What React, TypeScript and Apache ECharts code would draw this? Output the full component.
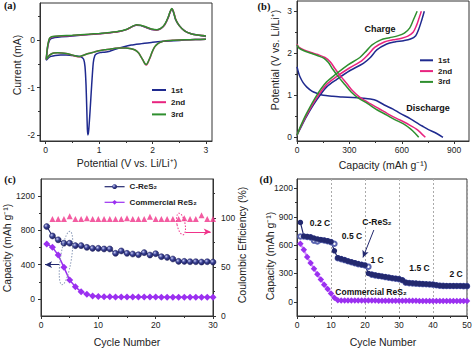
import React, { useEffect, useRef } from "react";
import * as echarts from "echarts";

const SANS = "Liberation Sans, Arial, sans-serif";
const SERIF = "Liberation Serif, Times New Roman, serif";
const AXC = "#333";

// ---------- (a) cyclic voltammetry: [potential (V), current (mA)] ----------
const cv1st: number[][] = [
  [3.0, 0.02], [2.8, 0.015], [2.6, 0.005], [2.4, -0.01], [2.2, -0.02], [2.0, -0.04], [1.8, -0.07], [1.6, -0.1],
  [1.45, -0.14], [1.3, -0.19], [1.2, -0.23], [1.1, -0.25], [1.02, -0.26], [0.96, -0.28], [0.92, -0.32], [0.89, -0.48],
  [0.86, -0.95], [0.83, -1.5], [0.805, -1.9], [0.79, -2.0], [0.78, -1.88], [0.77, -1.5], [0.755, -0.95], [0.735, -0.55],
  [0.71, -0.4], [0.66, -0.35], [0.58, -0.33], [0.48, -0.32], [0.38, -0.31], [0.28, -0.31], [0.18, -0.32], [0.1, -0.34],
  [0.05, -0.37], [0.01, -0.42],
  [0.02, -0.3], [0.04, -0.12], [0.07, 0.0], [0.11, 0.04], [0.17, 0.06], [0.3, 0.075], [0.5, 0.09], [0.8, 0.12],
  [1.0, 0.14], [1.2, 0.16], [1.4, 0.19], [1.52, 0.23], [1.62, 0.29], [1.7, 0.32], [1.78, 0.31], [1.88, 0.27],
  [1.98, 0.23], [2.08, 0.22], [2.16, 0.25], [2.23, 0.33], [2.29, 0.47], [2.33, 0.6], [2.36, 0.66], [2.39, 0.6],
  [2.43, 0.44], [2.5, 0.31], [2.6, 0.2], [2.72, 0.14], [2.85, 0.11], [3.0, 0.08],
];
const cv2nd: number[][] = [
  [3.0, 0.02], [2.8, 0.015], [2.6, 0.01], [2.4, 0.0], [2.25, -0.01], [2.17, -0.03], [2.1, -0.07], [2.04, -0.14],
  [1.99, -0.26], [1.95, -0.38], [1.91, -0.48], [1.885, -0.52], [1.86, -0.5], [1.83, -0.44], [1.79, -0.36], [1.74, -0.27],
  [1.68, -0.21], [1.6, -0.18], [1.5, -0.16], [1.4, -0.16], [1.3, -0.17], [1.2, -0.19], [1.1, -0.2], [1.0, -0.22],
  [0.9, -0.25], [0.8, -0.28], [0.72, -0.31], [0.65, -0.34], [0.6, -0.345], [0.54, -0.33], [0.46, -0.3], [0.38, -0.28],
  [0.3, -0.27], [0.22, -0.265], [0.15, -0.27], [0.09, -0.3], [0.05, -0.34], [0.01, -0.4],
  [0.02, -0.28], [0.04, -0.1], [0.07, 0.03], [0.11, 0.07], [0.17, 0.08], [0.3, 0.09], [0.5, 0.1], [0.8, 0.125],
  [1.0, 0.14], [1.2, 0.16], [1.4, 0.19], [1.52, 0.23], [1.62, 0.29], [1.7, 0.325], [1.78, 0.315], [1.88, 0.275],
  [1.98, 0.235], [2.08, 0.22], [2.16, 0.25], [2.23, 0.33], [2.29, 0.47], [2.33, 0.6], [2.365, 0.66], [2.395, 0.6],
  [2.435, 0.44], [2.5, 0.31], [2.6, 0.2], [2.72, 0.14], [2.85, 0.11], [3.0, 0.09],
];
const cv3rd: number[][] = [
  [3.0, 0.02], [2.8, 0.015], [2.6, 0.01], [2.4, 0.0], [2.25, -0.01], [2.17, -0.03], [2.1, -0.07], [2.04, -0.14],
  [1.99, -0.25], [1.95, -0.37], [1.91, -0.47], [1.88, -0.51], [1.855, -0.49], [1.825, -0.43], [1.785, -0.35], [1.74, -0.27],
  [1.68, -0.21], [1.6, -0.18], [1.5, -0.16], [1.4, -0.16], [1.3, -0.17], [1.2, -0.19], [1.1, -0.2], [1.0, -0.22],
  [0.9, -0.25], [0.8, -0.28], [0.72, -0.31], [0.65, -0.335], [0.6, -0.34], [0.54, -0.325], [0.46, -0.3], [0.38, -0.28],
  [0.3, -0.27], [0.22, -0.265], [0.15, -0.27], [0.09, -0.3], [0.05, -0.34], [0.01, -0.4],
  [0.02, -0.27], [0.04, -0.09], [0.07, 0.04], [0.11, 0.075], [0.17, 0.085], [0.3, 0.095], [0.5, 0.105], [0.8, 0.13],
  [1.0, 0.145], [1.2, 0.165], [1.4, 0.195], [1.52, 0.235], [1.62, 0.295], [1.7, 0.33], [1.78, 0.32], [1.88, 0.28],
  [1.98, 0.24], [2.08, 0.225], [2.16, 0.255], [2.23, 0.34], [2.29, 0.48], [2.33, 0.61], [2.36, 0.67], [2.39, 0.61],
  [2.43, 0.45], [2.5, 0.31], [2.6, 0.2], [2.72, 0.14], [2.85, 0.11], [3.0, 0.09],
];

// ---------- (b) galvanostatic profiles: [capacity (mAh/g), potential (V)] ----------
const dis1st: number[][] = [
  [0, 1.68], [8, 1.55], [17, 1.44], [35, 1.3], [55, 1.2], [85, 1.1], [113, 1.05], [150, 1.0], [200, 0.98], [260, 0.96],
  [320, 0.95], [380, 0.93], [420, 0.91], [457, 0.87], [500, 0.77], [550, 0.67], [591, 0.57], [650, 0.44], [700, 0.31],
  [725, 0.25], [750, 0.19], [800, 0.09], [836, 0.0],
];
const dis2nd: number[][] = [
  [0, 2.22], [10, 2.15], [40, 2.08], [80, 2.02], [120, 1.97], [160, 1.9], [190, 1.8], [215, 1.65], [245, 1.48],
  [285, 1.28], [320, 1.1], [361, 0.95], [419, 0.8], [470, 0.68], [520, 0.56], [570, 0.45], [610, 0.37], [650, 0.28],
  [686, 0.19], [710, 0.1], [735, 0.0],
];
const dis3rd: number[][] = [
  [0, 2.2], [10, 2.13], [40, 2.06], [80, 2.0], [120, 1.94], [155, 1.88], [180, 1.78], [205, 1.62], [235, 1.45],
  [275, 1.25], [310, 1.08], [350, 0.94], [405, 0.8], [460, 0.65], [514, 0.53], [560, 0.42], [610, 0.32], [650, 0.2],
  [680, 0.08], [697, 0.0],
];
const chg1st: number[][] = [
  [0, 0.05], [20, 0.22], [55, 0.5], [113, 0.89], [170, 1.2], [228, 1.38], [304, 1.59], [380, 1.76], [420, 1.9],
  [457, 2.08], [514, 2.22], [560, 2.27], [610, 2.3], [650, 2.34], [680, 2.42], [696, 2.56], [715, 2.8], [729, 3.0],
];
const chg2nd: number[][] = [
  [0, 0.05], [20, 0.24], [55, 0.53], [113, 0.94], [170, 1.26], [228, 1.45], [300, 1.65], [370, 1.82], [410, 1.98],
  [445, 2.14], [500, 2.27], [550, 2.32], [600, 2.36], [635, 2.41], [665, 2.5], [685, 2.67], [700, 2.85], [712, 3.0],
];
const chg3rd: number[][] = [
  [0, 0.05], [20, 0.26], [55, 0.57], [113, 1.0], [170, 1.32], [228, 1.52], [290, 1.72], [360, 1.9], [400, 2.07],
  [430, 2.2], [480, 2.32], [530, 2.37], [580, 2.42], [615, 2.48], [645, 2.6], [665, 2.78], [688, 3.0],
];

// ---------- (c) cycling at constant rate ----------
const cyclesC = [1, 2, 3, 4, 5, 6, 7, 8, 9, 10, 11, 12, 13, 14, 15, 16, 17, 18, 19, 20, 21, 22, 23, 24, 25, 26, 27, 28, 29, 30];
const cReS2Cap = [845, 735, 690, 650, 650, 622, 622, 602, 590, 590, 583, 583, 532, 560, 532, 524, 516, 540, 512, 528,
  493, 485, 466, 438, 438, 434, 434, 430, 434, 430];
const commCap = [642, 602, 512, 368, 219, 141, 82, 55, 35, 27, 25, 24, 23, 23, 22, 22, 22, 21, 21, 21,
  20, 20, 20, 19, 19, 19, 18, 18, 18, 18];
const ceCycles = [2, 3, 4, 5, 6, 7, 8, 9, 10, 11, 12, 13, 14, 15, 16, 17, 18, 19, 20, 21, 22, 23, 24, 25, 26, 27, 28, 29, 30];
const ceValues = [99, 99, 99, 102, 99, 99, 100, 99, 99, 99, 99, 99, 99, 100, 99, 99, 99, 101.5, 99, 99,
  99, 99, 99, 100, 99, 99, 103, 99, 99];

// ---------- (d) rate capability ----------
const cyclesD = [1, 2, 3, 4, 5, 6, 7, 8, 9, 10, 11, 12, 13, 14, 15, 16, 17, 18, 19, 20, 21, 22, 23, 24, 25,
  26, 27, 28, 29, 30, 31, 32, 33, 34, 35, 36, 37, 38, 39, 40, 41, 42, 43, 44, 45, 46, 47, 48, 49, 50];
const rateDis = [840, 695, 690, 685, 675, 665, 658, 652, 645, 635, 540, 465, 455, 445, 432, 422, 412, 402, 395, 388,
  300, 290, 282, 276, 270, 264, 258, 252, 247, 242, 230, 205, 200, 197, 195, 192, 190, 188, 186, 184,
  178, 172, 170, 170, 169, 169, 168, 168, 167, 167];
const rateChg = [692, 692, 687, 682, 648, 640, 655, 649, 642, 632, 615, 462, 452, 442, 429, 419, 409, 399, 392, 385,
  372, 288, 280, 274, 268, 262, 256, 250, 245, 240, 228, 203, 198, 195, 193, 190, 188, 186, 184, 182,
  176, 171, 169, 168, 168, 168, 167, 167, 166, 166];
const rateComm = [614, 551, 474, 410, 351, 292, 235, 182, 137, 88, 42, 18, 15, 15, 14, 14, 14, 14, 13, 13,
  13, 13, 13, 12, 12, 12, 12, 12, 12, 11, 11, 11, 11, 11, 11, 10, 10, 10, 10, 10,
  10, 10, 9, 9, 9, 9, 9, 9, 9, 9];
const rateLabels = ["0.2 C", "0.5 C", "1 C", "1.5 C", "2 C"];

// ---------- ticks ----------
const aXMajor = [0, 1, 2, 3], aXMinor = [0.5, 1.5, 2.5];
const aYMajor = [-2, -1, 0], aYMinor = [-1.5, -0.5, 0.5];
const bXMajor = [0, 300, 600, 900], bXMinor = [150, 450, 750];
const bYMajor = [0, 1, 2, 3], bYMinor = [0.5, 1.5, 2.5];
const cXMajor = [0, 10, 20, 30], cXMinor = [5, 15, 25];
const cYMajor = [0, 400, 800, 1200], cYMinor = [200, 600, 1000];
const cRMajor = [0, 50, 100], cRMinor = [25, 75, 125];
const dXMajor = [0, 10, 20, 30, 40, 50], dXMinor = [5, 15, 25, 35, 45];
const dYMajor = [0, 300, 600, 900, 1200], dYMinor = [150, 450, 750, 1050];

const BLUE = "#1f2a8f";
const PINK = "#e8247f";
const GREEN = "#2f8f2f";
const NAVY = "#23296f";
const VIOLET = "#9b30f0";
const CEPINK = "#f0338a";

function valueAxes(gridIndex: number, position: string, min: number, max: number, major: number[], minor: number[],
  margin: number, extra: any = {}) {
  const common = { type: "value", gridIndex, position, min, max, splitLine: { show: false } };
  const main = {
    ...common,
    axisLine: { show: true, onZero: false, lineStyle: { color: AXC, width: 1 } },
    axisTick: { show: true, inside: false, length: 3, customValues: major, lineStyle: { color: AXC, width: 1 } },
    axisLabel: {
      show: true, customValues: major, margin, fontSize: 8.5, color: "#222", fontFamily: SANS,
      formatter: (v: number) => String(v),
    },
    ...extra,
  };
  const mnr = {
    ...common,
    axisLine: { show: false, onZero: false },
    axisTick: { show: true, inside: false, length: 2, customValues: minor, lineStyle: { color: AXC, width: 1 } },
    axisLabel: { show: false },
  };
  return [main, mnr];
}

function txt(x: number, y: number, text: string, o: any = {}) {
  return {
    type: "text", x, y, rotation: o.rot || 0, silent: true, z: 50,
    style: {
      text, fill: o.color || "#222", fontSize: o.size || 10.5, fontFamily: o.family || SANS,
      fontWeight: o.weight || "normal", align: "center", verticalAlign: "middle",
      textAlign: "center", textVerticalAlign: "middle",
    },
  };
}

function pairs(xs: number[], ys: number[]) {
  return ys.map((v, i) => [xs[i], v]);
}

function buildOption(): any {
  const gridBase = { show: true, borderColor: AXC, borderWidth: 1, backgroundColor: "transparent", containLabel: false, outerBoundsMode: "none" };
  const grid = [
    { ...gridBase, left: 40, top: 3, width: 172, height: 138 },
    { ...gridBase, left: 297, top: 1, width: 172, height: 140 },
    { ...gridBase, left: 41, top: 179, width: 172, height: 137 },
    { ...gridBase, left: 297, top: 179, width: 170, height: 137 },
  ];
  const xAxis = [
    ...valueAxes(0, "bottom", -0.107, 3.113, aXMajor, aXMinor, 4),
    ...valueAxes(1, "bottom", 0, 985, bXMajor, bXMinor, 4),
    ...valueAxes(2, "bottom", 0, 30, cXMajor, cXMinor, 4),
    ...valueAxes(3, "bottom", 0, 50, dXMajor, dXMinor, 4, {
      interval: 10,
      splitLine: { show: true, lineStyle: { type: [2, 2], color: "#aaa", width: 1 } },
    }),
  ];
  const yAxis = [
    ...valueAxes(0, "left", -2.127, 0.788, aYMajor, aYMinor, 5),
    ...valueAxes(1, "left", -0.088, 3.245, bYMajor, bYMinor, 5),
    ...valueAxes(2, "left", -200, 1400, cYMajor, cYMinor, 6),
    ...valueAxes(2, "right", 0, 140, cRMajor, cRMinor, 8),
    ...valueAxes(3, "left", -150, 1300, dYMajor, dYMinor, 4),
  ];
  const cvLine = (name: string, data: number[][], color: string) => ({
    type: "line", name, data, xAxisIndex: 0, yAxisIndex: 0, symbol: "none", smooth: 0.2,
    lineStyle: { color, width: 1.5 }, itemStyle: { color },
  });
  const gcdLine = (name: string, data: number[][], color: string) => ({
    type: "line", name, data, xAxisIndex: 2, yAxisIndex: 2, symbol: "none", smooth: 0.3,
    lineStyle: { color, width: 1.5 }, itemStyle: { color },
  });
  const sphere = new echarts.graphic.RadialGradient(0.35, 0.35, 0.7, [
    { offset: 0, color: "#c8ccf5" },
    { offset: 0.45, color: "#3c4396" },
    { offset: 1, color: "#1a1d5a" },
  ]);
  const arrowML = (from: number[], to: number[], color: string) => ({
    silent: true, symbol: ["none", "arrow"], symbolSize: [5, 7], animation: false,
    label: { show: false }, lineStyle: { color, width: 1, type: "solid" },
    data: [[{ coord: from }, { coord: to }]],
  });

  const series: any[] = [
    cvLine("1st", cv1st, BLUE),
    cvLine("2nd", cv2nd, PINK),
    cvLine("3rd", cv3rd, GREEN),
    gcdLine("1st", dis1st, BLUE),
    gcdLine("1st", chg1st, BLUE),
    gcdLine("2nd", dis2nd, PINK),
    gcdLine("2nd", chg2nd, PINK),
    gcdLine("3rd", dis3rd, GREEN),
    gcdLine("3rd", chg3rd, GREEN),
    {
      type: "line", name: "C-ReS₂", data: pairs(cyclesC, cReS2Cap), xAxisIndex: 4, yAxisIndex: 4,
      symbol: "circle", symbolSize: 6, showAllSymbol: true,
      lineStyle: { color: NAVY, width: 1.2 }, itemStyle: { color: sphere, borderColor: "#1a1d5a", borderWidth: 0.5 },
      markLine: arrowML([3.2, 400], [0.7, 400], NAVY),
      z: 3,
    },
    {
      type: "line", name: "Commercial ReS₂", data: pairs(cyclesC, commCap), xAxisIndex: 4, yAxisIndex: 4,
      symbol: "diamond", symbolSize: 7, showAllSymbol: true,
      lineStyle: { color: VIOLET, width: 1.5 }, itemStyle: { color: VIOLET },
      z: 3,
    },
    {
      type: "scatter", name: "Coulombic efficiency", data: pairs(ceCycles, ceValues), xAxisIndex: 4, yAxisIndex: 6,
      symbol: "triangle", symbolSize: 6, itemStyle: { color: CEPINK },
      markLine: arrowML([25.2, 86], [29.6, 86], CEPINK),
    },
    {
      type: "line", name: "C-ReS₂ charge", data: pairs(cyclesD, rateChg), xAxisIndex: 6, yAxisIndex: 8,
      symbol: "emptyCircle", symbolSize: 4.5, showAllSymbol: true,
      lineStyle: { width: 0 }, itemStyle: { color: "#5a64b0", borderColor: "#4a52a0", borderWidth: 1 },
    },
    {
      type: "line", name: "C-ReS₂ discharge", data: pairs(cyclesD, rateDis), xAxisIndex: 6, yAxisIndex: 8,
      symbol: "circle", symbolSize: 5.5, showAllSymbol: true,
      lineStyle: { color: NAVY, width: 1.2 }, itemStyle: { color: NAVY },
      markLine: arrowML([22.6, 760], [19.4, 470], NAVY),
    },
    {
      type: "line", name: "Commercial ReS₂ rate", data: pairs(cyclesD, rateComm), xAxisIndex: 6, yAxisIndex: 8,
      symbol: "diamond", symbolSize: 6.5, showAllSymbol: true,
      lineStyle: { color: "#d08aff", width: 2 }, itemStyle: { color: VIOLET },
    },
  ];

  const legendText = { fontSize: 8, fontWeight: "bold", fontFamily: SANS, color: "#222", lineHeight: 10 };
  const legend = [
    { data: ["1st", "2nd", "3rd"], orient: "vertical", left: 152, top: 85, icon: "rect", itemWidth: 14, itemHeight: 2, itemGap: 2.2,
      padding: 0, selectedMode: false, textStyle: legendText },
    { data: ["1st", "2nd", "3rd"], orient: "vertical", left: 420, top: 55.3, icon: "rect", itemWidth: 13, itemHeight: 2, itemGap: 0.8,
      padding: 0, selectedMode: false, textStyle: legendText },
    { data: ["C-ReS₂", "Commercial ReS₂"], orient: "vertical", left: 104, top: 181.7, itemWidth: 20, itemHeight: 6, itemGap: 5.6,
      padding: 0, selectedMode: false, textStyle: legendText,
      itemStyle: { borderWidth: 0 }, lineStyle: { width: 1.2 } },
  ];

  const lab = { family: SERIF, weight: "bold", size: 10.5, color: "#111" };
  const ann = { weight: "bold", size: 8.5, color: "#111" };
  const graphic = [
    txt(10, 5, "(a)", lab),
    txt(264, 6, "(b)", lab),
    txt(10, 179, "(c)", lab),
    txt(266, 179, "(d)", lab),
    txt(17, 65, "Current (mA)", { rot: Math.PI / 2 }),
    txt(127, 163, "Potential (V vs. Li/Li⁺)"),
    txt(275, 60, "Potential (V vs. Li/Li⁺)", { rot: Math.PI / 2 }),
    txt(383, 165, "Capacity (mAh g⁻¹)"),
    txt(7, 248, "Capacity (mAh g⁻¹)", { rot: Math.PI / 2 }),
    txt(127, 342, "Cycle Number"),
    txt(241.5, 245, "Coulombic Efficiency (%)", { rot: Math.PI / 2 }),
    txt(270, 256, "Capacity (mAh g⁻¹)", { rot: Math.PI / 2 }),
    txt(383, 342, "Cycle Number"),
    txt(380, 29, "Charge", { weight: "bold", size: 9, color: "#111" }),
    txt(428, 108, "Discharge", { weight: "bold", size: 9, color: "#111" }),
    txt(320, 223, rateLabels[0], ann),
    txt(352, 236, rateLabels[1], ann),
    txt(377, 260, rateLabels[2], ann),
    txt(419.5, 268, rateLabels[3], ann),
    txt(456, 274, rateLabels[4], ann),
    txt(377, 222, "C-ReS₂", ann),
    txt(371, 292, "Commercial ReS₂", ann),
    {
      type: "ellipse", silent: true, z: 40, x: 66, y: 258, rotation: -0.15,
      shape: { cx: 0, cy: 0, rx: 5.5, ry: 27 },
      style: { fill: "none", stroke: "#8a9ab8", lineWidth: 1, lineDash: [1.5, 1.5] },
    },
    {
      type: "ellipse", silent: true, z: 40, x: 181, y: 224, rotation: 0.2,
      shape: { cx: 0, cy: 0, rx: 4, ry: 11 },
      style: { fill: "none", stroke: CEPINK, lineWidth: 1, lineDash: [1.5, 1.5] },
    },
  ];

  return { animation: false, backgroundColor: "#fff", grid, xAxis, yAxis, series, legend, graphic };
}

export default function App() {
  const ref = useRef<HTMLDivElement>(null);
  useEffect(() => {
    if (!ref.current) return;
    const chart = echarts.init(ref.current, null, { renderer: "svg" });
    chart.setOption(buildOption());
    return () => chart.dispose();
  }, []);
  return (
    <div
      ref={ref}
      style={{ position: "fixed", left: 0, top: 0, width: 474, height: 350, background: "#fff" }}
    />
  );
}
